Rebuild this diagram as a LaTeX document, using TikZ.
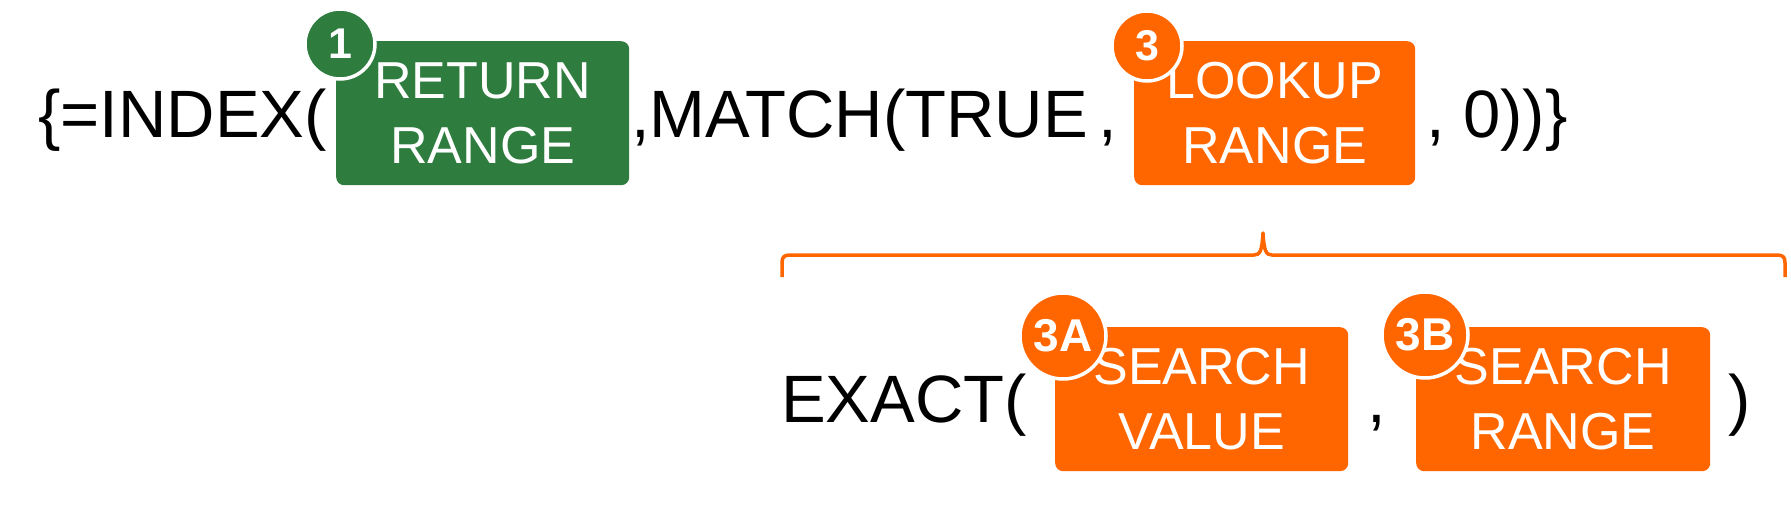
\documentclass[tikz,border=0pt]{standalone}
\usepackage{fontspec}
\setmainfont{Liberation Sans}
\definecolor{xlgreen}{RGB}{46,125,62}
\definecolor{xlorange}{RGB}{255,102,0}
\begin{document}
\begin{tikzpicture}[x=1pt,y=-1pt,
  formula/.style={inner sep=0pt, anchor=base west, font=\fontsize{67}{80}\selectfont},
  argbox/.style={rounded corners=8pt, fill=#1, text=white, align=center, anchor=north west,
    minimum width=293pt, minimum height=144pt, inner sep=0pt, font=\fontsize{52}{65}\selectfont},
  badge/.style={circle, fill=#1, draw=white, line width=3.5pt, inner sep=0pt, text=white},
  smallbadge/.style={badge=#1, minimum size=70pt, font=\bfseries\fontsize{43}{50}\selectfont},
  bigbadge/.style={badge=#1, minimum size=86pt, font=\bfseries\fontsize{46}{54}\selectfont},
  bracepath/.style={draw=xlorange, line width=3.5pt, line join=round}
]
\useasboundingbox (0,0) rectangle (1791,512);
% row 1
\node[formula] (index) at (38,137) {\{=INDEX(};
\node[argbox=xlgreen] (ret) at (336,41) {RETURN\\RANGE};
\node[smallbadge=xlgreen] (b1) at (340,44) {1};
\node[formula] (match) at (631,137) {,MATCH(TRUE};
\node[formula] (c1) at (1098,137) {,};
\node[argbox=xlorange, minimum width=281pt] (look) at (1134,41) {LOOKUP\\RANGE};
\node[smallbadge=xlorange] (b3) at (1147,46) {3};
\node[formula] (tail) at (1426,137) {, 0))\}};
% brace
\coordinate (braceL) at (782,277);
\coordinate (braceR) at (1785,277);
\coordinate (braceTip) at (1263,233);
\path[bracepath] (braceL) -- ++(0,-14) .. controls +(0,-6) and +(-6,0) .. (790,255)
  -- (1254,255) .. controls (1260,255) and (1262,251) .. (braceTip)
  .. controls (1264,251) and (1266,255) .. (1272,255)
  -- (1777,255) .. controls +(6,0) and +(0,-6) .. (1785,263) -- (braceR);
% row 2
\node[formula] (exact) at (781,422) {EXACT(};
\node[argbox=xlorange] (sval) at (1055,327) {SEARCH\\VALUE};
\node[bigbadge=xlorange] (b3a) at (1063,336) {3A};
\node[formula] (c2) at (1367,422) {,};
\node[argbox=xlorange, minimum width=294pt] (srng) at (1416,327) {SEARCH\\RANGE};
\node[bigbadge=xlorange] (b3b) at (1425,335) {3B};
\node[formula] (close) at (1728,422) {)};
\end{tikzpicture}
\end{document}
